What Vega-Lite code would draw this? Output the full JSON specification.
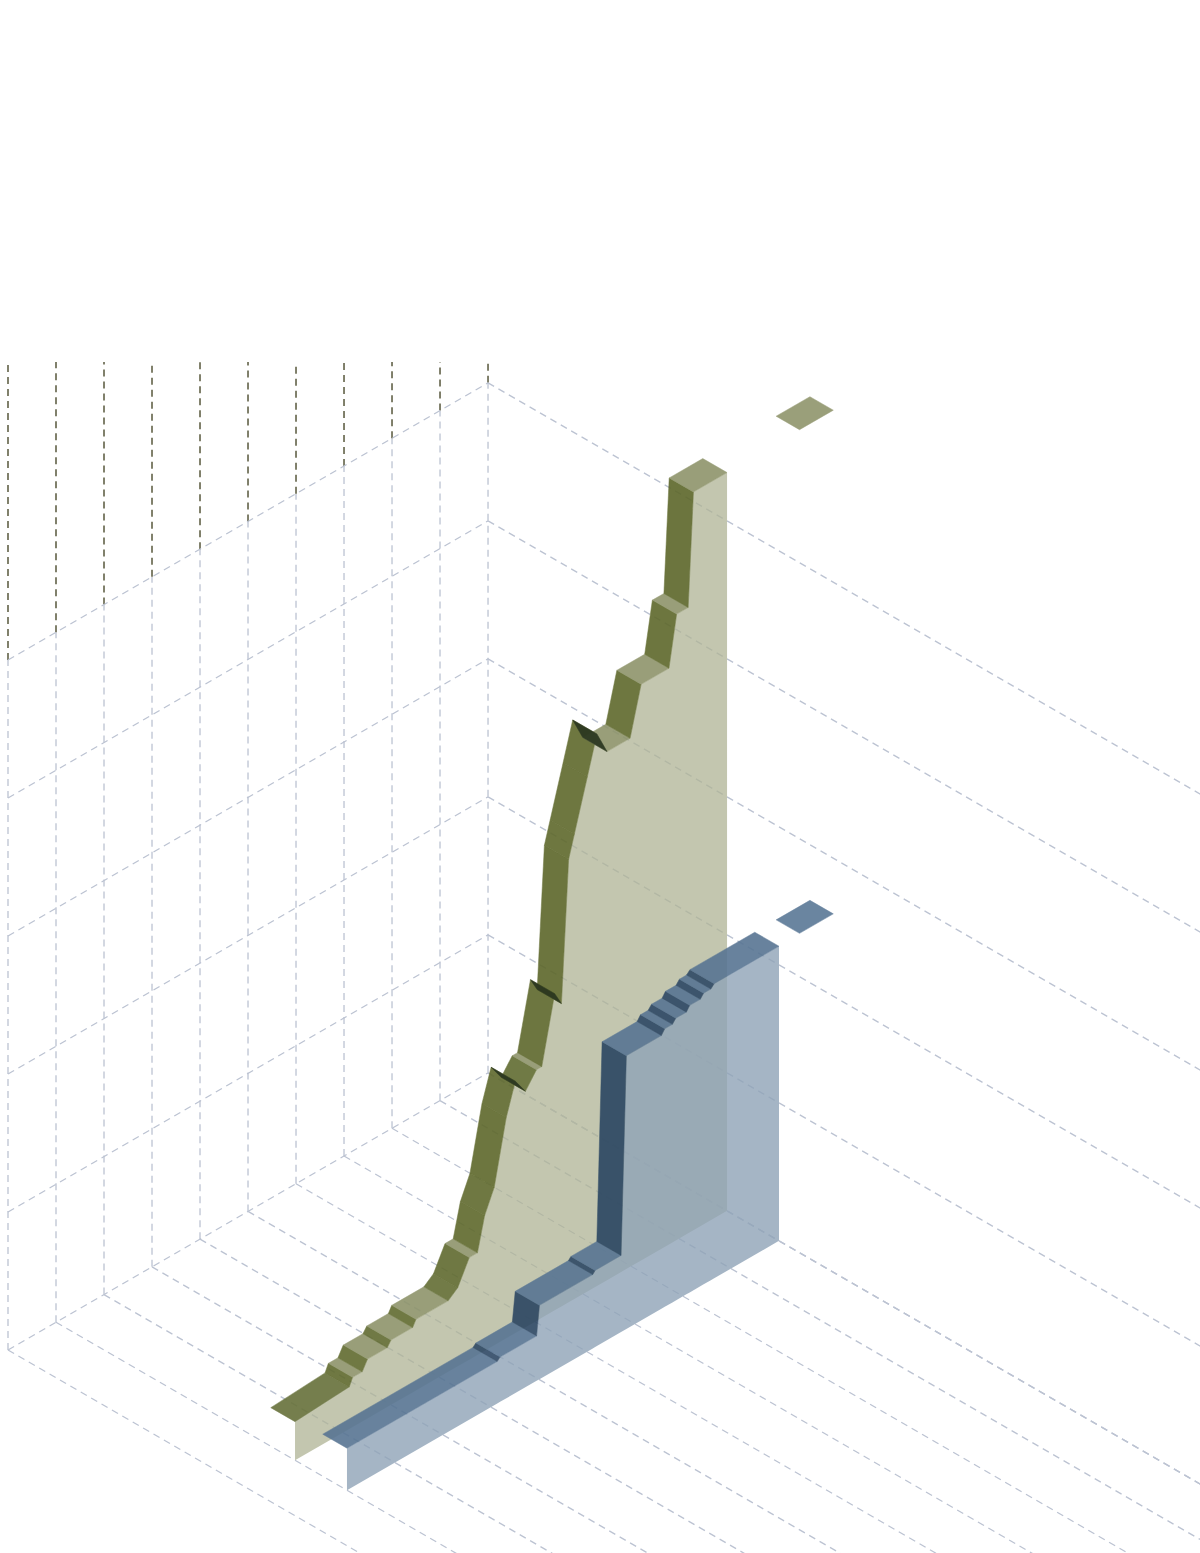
{
  "$schema": "https://vega.github.io/schema/vega-lite/v6.json",
  "width": 1200,
  "height": 1191,
  "padding": {"top": 362, "left": 0, "right": 0, "bottom": 0},
  "autosize": {"type": "none"},
  "background": "white",
  "config": {"view": {"stroke": null}},
  "datasets": {
    "pts": [
      {"s": "A", "t": 1.00, "v": 5.6},
      {"s": "A", "t": 2.13, "v": 6.1},
      {"s": "A", "t": 2.20, "v": 7.2},
      {"s": "A", "t": 2.40, "v": 7.2},
      {"s": "A", "t": 2.51, "v": 8.6},
      {"s": "A", "t": 2.92, "v": 8.6},
      {"s": "A", "t": 3.00, "v": 9.4},
      {"s": "A", "t": 3.45, "v": 9.4},
      {"s": "A", "t": 3.52, "v": 10.3},
      {"s": "A", "t": 4.19, "v": 10.3},
      {"s": "A", "t": 4.39, "v": 11.4},
      {"s": "A", "t": 4.63, "v": 14.8},
      {"s": "A", "t": 4.80, "v": 14.8},
      {"s": "A", "t": 4.95, "v": 19.6},
      {"s": "A", "t": 5.15, "v": 22.9},
      {"s": "A", "t": 5.40, "v": 32.0},
      {"s": "A", "t": 5.59, "v": 36.5},
      {"s": "A", "t": 5.80, "v": 34.2},
      {"s": "A", "t": 6.03, "v": 36.4},
      {"s": "A", "t": 6.14, "v": 36.4},
      {"s": "A", "t": 6.41, "v": 45.9},
      {"s": "A", "t": 6.55, "v": 43.9},
      {"s": "A", "t": 6.70, "v": 64.2},
      {"s": "A", "t": 6.82, "v": 67.4},
      {"s": "A", "t": 7.09, "v": 74.6},
      {"s": "A", "t": 7.29, "v": 80.0},
      {"s": "A", "t": 7.50, "v": 76.6},
      {"s": "A", "t": 7.98, "v": 76.6},
      {"s": "A", "t": 8.21, "v": 83.5},
      {"s": "A", "t": 8.79, "v": 83.5},
      {"s": "A", "t": 8.95, "v": 90.7},
      {"s": "A", "t": 9.19, "v": 90.7},
      {"s": "A", "t": 9.30, "v": 107.0},
      {"s": "A", "t": 10.00, "v": 107.0},
      {"s": "B", "t": 1.00, "v": 6.1},
      {"s": "B", "t": 4.13, "v": 6.1},
      {"s": "B", "t": 4.19, "v": 6.5},
      {"s": "B", "t": 4.95, "v": 6.5},
      {"s": "B", "t": 5.01, "v": 10.7},
      {"s": "B", "t": 6.12, "v": 10.7},
      {"s": "B", "t": 6.17, "v": 11.1},
      {"s": "B", "t": 6.71, "v": 11.1},
      {"s": "B", "t": 6.82, "v": 39.6},
      {"s": "B", "t": 7.55, "v": 39.6},
      {"s": "B", "t": 7.62, "v": 40.3},
      {"s": "B", "t": 7.78, "v": 40.3},
      {"s": "B", "t": 7.85, "v": 40.9},
      {"s": "B", "t": 8.07, "v": 40.9},
      {"s": "B", "t": 8.14, "v": 41.6},
      {"s": "B", "t": 8.36, "v": 41.6},
      {"s": "B", "t": 8.43, "v": 42.2},
      {"s": "B", "t": 8.58, "v": 42.2},
      {"s": "B", "t": 8.65, "v": 42.7},
      {"s": "B", "t": 10.00, "v": 42.7}
    ],
    "tticks": [
      {"t": 0}, {"t": 1}, {"t": 2}, {"t": 3}, {"t": 4}, {"t": 5},
      {"t": 6}, {"t": 7}, {"t": 8}, {"t": 9}, {"t": 10}
    ],
    "vticks": [
      {"v": 0}, {"v": 20}, {"v": 40}, {"v": 60}, {"v": 80}, {"v": 100}
    ]
  },
  "layer": [
    {
      "data": {"name": "tticks"},
      "transform": [
        {"calculate": "datum.t * 55.43", "as": "T"},
        {"calculate": "datum.T * 0.866", "as": "X"},
        {"calculate": "0.5 * datum.T", "as": "Y0"},
        {"calculate": "690 + 0.5 * datum.T", "as": "Y1"}
      ],
      "mark": {"type": "rule", "color": "#bcc3d2", "strokeWidth": 1.3, "strokeDash": [7, 5], "clip": true},
      "encoding": {
        "x": {"field": "X", "type": "quantitative", "scale": {"domain": [-8, 1192], "nice": false, "zero": false}, "axis": null},
        "y": {"field": "Y0", "type": "quantitative", "scale": {"domain": [-203, 988], "nice": false, "zero": false}, "axis": null},
        "y2": {"field": "Y1"}
      }
    },
    {
      "data": {"name": "tticks"},
      "transform": [
        {"calculate": "datum.t * 55.43", "as": "T"},
        {"calculate": "datum.T * 0.866", "as": "X"},
        {"calculate": "690 + 0.5 * datum.T", "as": "Y0"},
        {"calculate": "1300 + 0.5 * datum.T", "as": "Y1"}
      ],
      "mark": {"type": "rule", "color": "#626248", "strokeWidth": 1.6, "strokeDash": [7, 5], "clip": true},
      "encoding": {
        "x": {"field": "X", "type": "quantitative", "scale": {"domain": [-8, 1192], "nice": false, "zero": false}, "axis": null},
        "y": {"field": "Y0", "type": "quantitative", "scale": {"domain": [-203, 988], "nice": false, "zero": false}, "axis": null},
        "y2": {"field": "Y1"}
      }
    },
    {
      "data": {"name": "tticks"},
      "transform": [
        {"calculate": "datum.t * 55.43", "as": "T"},
        {"calculate": "datum.T * 0.866", "as": "X0"},
        {"calculate": "0.5 * datum.T", "as": "Y0"},
        {"calculate": "(datum.T + 1000) * 0.866", "as": "X1"},
        {"calculate": "0.5 * (datum.T - 1000)", "as": "Y1"}
      ],
      "mark": {"type": "rule", "color": "#bcc3d2", "strokeWidth": 1.3, "strokeDash": [7, 5], "clip": true},
      "encoding": {
        "x": {"field": "X0", "type": "quantitative", "scale": {"domain": [-8, 1192], "nice": false, "zero": false}, "axis": null},
        "y": {"field": "Y0", "type": "quantitative", "scale": {"domain": [-203, 988], "nice": false, "zero": false}, "axis": null},
        "x2": {"field": "X1"},
        "y2": {"field": "Y1"}
      }
    },
    {
      "data": {"name": "vticks"},
      "transform": [
        {"calculate": "datum.v * 6.9", "as": "V"},
        {"calculate": "0", "as": "X0"},
        {"calculate": "datum.V", "as": "Y0"},
        {"calculate": "554.3 * 0.866", "as": "X1"},
        {"calculate": "datum.V + 0.5 * 554.3", "as": "Y1"}
      ],
      "mark": {"type": "rule", "color": "#bcc3d2", "strokeWidth": 1.3, "strokeDash": [7, 5], "clip": true},
      "encoding": {
        "x": {"field": "X0", "type": "quantitative", "scale": {"domain": [-8, 1192], "nice": false, "zero": false}, "axis": null},
        "y": {"field": "Y0", "type": "quantitative", "scale": {"domain": [-203, 988], "nice": false, "zero": false}, "axis": null},
        "x2": {"field": "X1"},
        "y2": {"field": "Y1"}
      }
    },
    {
      "data": {"name": "vticks"},
      "transform": [
        {"calculate": "datum.v * 6.9", "as": "V"},
        {"calculate": "554.3 * 0.866", "as": "X0"},
        {"calculate": "datum.V + 0.5 * 554.3", "as": "Y0"},
        {"calculate": "(554.3 + 1000) * 0.866", "as": "X1"},
        {"calculate": "datum.V + 0.5 * (554.3 - 1000)", "as": "Y1"}
      ],
      "mark": {"type": "rule", "color": "#bcc3d2", "strokeWidth": 1.3, "strokeDash": [7, 5], "clip": true},
      "encoding": {
        "x": {"field": "X0", "type": "quantitative", "scale": {"domain": [-8, 1192], "nice": false, "zero": false}, "axis": null},
        "y": {"field": "Y0", "type": "quantitative", "scale": {"domain": [-203, 988], "nice": false, "zero": false}, "axis": null},
        "x2": {"field": "X1"},
        "y2": {"field": "Y1"}
      }
    },
    {
      "data": {"name": "pts"},
      "transform": [
        {"filter": "datum.s === 'A'"},
        {"calculate": "datum.t * 55.43", "as": "T"},
        {"calculate": "(datum.T + 276) * 0.866", "as": "X"},
        {"calculate": "datum.v * 6.9 + 0.5 * (datum.T - 276)", "as": "Y"},
        {"calculate": "0.5 * (datum.T - 276)", "as": "Y0"}
      ],
      "mark": {"type": "area", "color": "#afb394", "opacity": 0.75, "clip": true},
      "encoding": {
        "x": {"field": "X", "type": "quantitative", "scale": {"domain": [-8, 1192], "nice": false, "zero": false}, "axis": null},
        "y": {"field": "Y", "type": "quantitative", "scale": {"domain": [-203, 988], "nice": false, "zero": false}, "axis": null},
        "y2": {"field": "Y0"}
      }
    },
    {
      "data": {"name": "pts"},
      "transform": [
        {"filter": "datum.s === 'A'"},
        {"window": [{"op": "lead", "field": "t", "as": "t2"}, {"op": "lead", "field": "v", "as": "v2"}], "sort": [{"field": "t", "order": "ascending"}], "groupby": ["s"]},
        {"filter": "datum.t2 != null"},
        {"calculate": "atan2((datum.v2 - datum.v) * 6.9, (datum.t2 - datum.t) * 55.43) * 180 / PI", "as": "ang"},
        {"filter": "datum.ang >= -1"},
        {"calculate": "[0, 1, 2, 3]", "as": "c"},
        {"flatten": ["c"]},
        {"calculate": "(datum.c === 1 || datum.c === 2 ? datum.t2 : datum.t) * 55.43", "as": "T"},
        {"calculate": "(datum.c === 1 || datum.c === 2 ? datum.v2 : datum.v) * 6.9", "as": "V"},
        {"calculate": "datum.c < 2 ? 276 : 248", "as": "D"},
        {"calculate": "(datum.T + datum.D) * 0.866", "as": "X"},
        {"calculate": "datum.V + 0.5 * (datum.T - datum.D)", "as": "Y"}
      ],
      "mark": {"type": "line", "filled": true, "interpolate": "linear-closed", "strokeWidth": 0.5, "opacity": 0.9, "clip": true},
      "encoding": {
        "x": {"field": "X", "type": "quantitative", "scale": {"domain": [-8, 1192], "nice": false, "zero": false}, "axis": null},
        "y": {"field": "Y", "type": "quantitative", "scale": {"domain": [-203, 988], "nice": false, "zero": false}, "axis": null},
        "order": {"field": "c", "type": "quantitative"},
        "detail": {"field": "t", "type": "quantitative"},
        "color": {"field": "ang", "type": "quantitative", "scale": {"domain": [0, 1, 1.5, 90], "range": ["#8e946b", "#8e946b", "#67713a", "#5d6729"], "clamp": true}, "legend": null},
        "stroke": {"field": "ang", "type": "quantitative", "scale": {"domain": [0, 1, 1.5, 90], "range": ["#8e946b", "#8e946b", "#67713a", "#5d6729"], "clamp": true}, "legend": null}
      }
    },
    {
      "data": {"name": "pts"},
      "transform": [
        {"filter": "datum.s === 'A'"},
        {"window": [{"op": "lead", "field": "t", "as": "t2"}, {"op": "lead", "field": "v", "as": "v2"}], "sort": [{"field": "t", "order": "ascending"}], "groupby": ["s"]},
        {"filter": "datum.t2 != null"},
        {"calculate": "atan2((datum.v2 - datum.v) * 6.9, (datum.t2 - datum.t) * 55.43) * 180 / PI", "as": "ang"},
        {"filter": "datum.ang < -1"},
        {"calculate": "[0, 1, 2, 3]", "as": "c"},
        {"flatten": ["c"]},
        {"calculate": "(datum.c === 1 || datum.c === 2 ? datum.t2 : datum.t) * 55.43", "as": "T"},
        {"calculate": "(datum.c === 1 || datum.c === 2 ? datum.v2 : datum.v) * 6.9", "as": "V"},
        {"calculate": "datum.c < 2 ? 276 : 248", "as": "D"},
        {"calculate": "(datum.T + datum.D) * 0.866", "as": "X"},
        {"calculate": "datum.V + 0.5 * (datum.T - datum.D)", "as": "Y"}
      ],
      "mark": {"type": "line", "filled": true, "interpolate": "linear-closed", "color": "#2a3620", "stroke": "#2a3620", "strokeWidth": 0.5, "opacity": 0.92, "clip": true},
      "encoding": {
        "x": {"field": "X", "type": "quantitative", "scale": {"domain": [-8, 1192], "nice": false, "zero": false}, "axis": null},
        "y": {"field": "Y", "type": "quantitative", "scale": {"domain": [-203, 988], "nice": false, "zero": false}, "axis": null},
        "order": {"field": "c", "type": "quantitative"},
        "detail": {"field": "t", "type": "quantitative"}
      }
    },
    {
      "data": {"name": "pts"},
      "transform": [
        {"filter": "datum.s === 'B'"},
        {"calculate": "datum.t * 55.43", "as": "T"},
        {"calculate": "(datum.T + 336) * 0.866", "as": "X"},
        {"calculate": "datum.v * 6.9 + 0.5 * (datum.T - 336)", "as": "Y"},
        {"calculate": "0.5 * (datum.T - 336)", "as": "Y0"}
      ],
      "mark": {"type": "area", "color": "#8ea2b6", "opacity": 0.8, "clip": true},
      "encoding": {
        "x": {"field": "X", "type": "quantitative", "scale": {"domain": [-8, 1192], "nice": false, "zero": false}, "axis": null},
        "y": {"field": "Y", "type": "quantitative", "scale": {"domain": [-203, 988], "nice": false, "zero": false}, "axis": null},
        "y2": {"field": "Y0"}
      }
    },
    {
      "data": {"name": "pts"},
      "transform": [
        {"filter": "datum.s === 'B'"},
        {"window": [{"op": "lead", "field": "t", "as": "t2"}, {"op": "lead", "field": "v", "as": "v2"}], "sort": [{"field": "t", "order": "ascending"}], "groupby": ["s"]},
        {"filter": "datum.t2 != null"},
        {"calculate": "atan2((datum.v2 - datum.v) * 6.9, (datum.t2 - datum.t) * 55.43) * 180 / PI", "as": "ang"},
        {"calculate": "[0, 1, 2, 3]", "as": "c"},
        {"flatten": ["c"]},
        {"calculate": "(datum.c === 1 || datum.c === 2 ? datum.t2 : datum.t) * 55.43", "as": "T"},
        {"calculate": "(datum.c === 1 || datum.c === 2 ? datum.v2 : datum.v) * 6.9", "as": "V"},
        {"calculate": "datum.c < 2 ? 336 : 308", "as": "D"},
        {"calculate": "(datum.T + datum.D) * 0.866", "as": "X"},
        {"calculate": "datum.V + 0.5 * (datum.T - datum.D)", "as": "Y"}
      ],
      "mark": {"type": "line", "filled": true, "interpolate": "linear-closed", "strokeWidth": 0.5, "opacity": 0.9, "clip": true},
      "encoding": {
        "x": {"field": "X", "type": "quantitative", "scale": {"domain": [-8, 1192], "nice": false, "zero": false}, "axis": null},
        "y": {"field": "Y", "type": "quantitative", "scale": {"domain": [-203, 988], "nice": false, "zero": false}, "axis": null},
        "order": {"field": "c", "type": "quantitative"},
        "detail": {"field": "t", "type": "quantitative"},
        "color": {"field": "ang", "type": "quantitative", "scale": {"domain": [0, 1, 1.5, 90], "range": ["#587593", "#587593", "#324b68", "#2b4662"], "clamp": true}, "legend": null},
        "stroke": {"field": "ang", "type": "quantitative", "scale": {"domain": [0, 1, 1.5, 90], "range": ["#587593", "#587593", "#324b68", "#2b4662"], "clamp": true}, "legend": null}
      }
    },
    {
      "data": {"name": "pts"},
      "transform": [
        {"aggregate": [{"op": "max", "field": "v", "as": "vmax"}], "groupby": ["s"]},
        {"calculate": "datum.s === 'A' ? 248 : 308", "as": "Db"},
        {"calculate": "[0, 1, 2, 3]", "as": "c"},
        {"flatten": ["c"]},
        {"calculate": "887 - datum.Db + (datum.c === 1 || datum.c === 2 ? 39 : 0)", "as": "T"},
        {"calculate": "datum.Db + (datum.c >= 2 ? 27 : 0)", "as": "D"},
        {"calculate": "datum.vmax * 6.9", "as": "V"},
        {"calculate": "(datum.T + datum.D) * 0.866", "as": "X"},
        {"calculate": "datum.V + 0.5 * (datum.T - datum.D)", "as": "Y"}
      ],
      "mark": {"type": "line", "filled": true, "interpolate": "linear-closed", "strokeWidth": 0.5, "clip": true},
      "encoding": {
        "x": {"field": "X", "type": "quantitative", "scale": {"domain": [-8, 1192], "nice": false, "zero": false}, "axis": null},
        "y": {"field": "Y", "type": "quantitative", "scale": {"domain": [-203, 988], "nice": false, "zero": false}, "axis": null},
        "order": {"field": "c", "type": "quantitative"},
        "detail": {"field": "s", "type": "nominal"},
        "color": {"field": "s", "type": "nominal", "scale": {"domain": ["A", "B"], "range": ["#9a9f7a", "#6a85a0"]}, "legend": null},
        "stroke": {"field": "s", "type": "nominal", "scale": {"domain": ["A", "B"], "range": ["#9a9f7a", "#6a85a0"]}, "legend": null}
      }
    }
  ],
  "resolve": {"scale": {"color": "independent", "stroke": "independent"}}
}
